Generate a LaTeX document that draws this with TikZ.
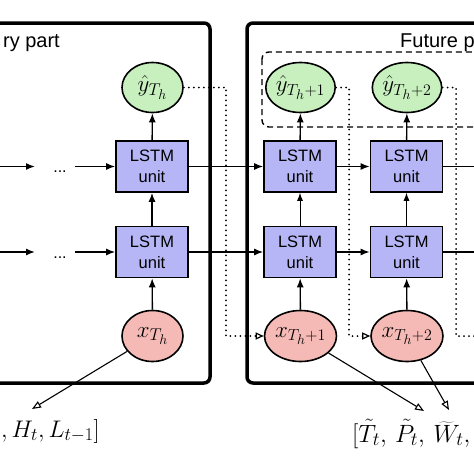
\RequirePackage{fix-cm}
\documentclass[tikz,border=0pt]{standalone}
\usepackage{fontspec}
\setsansfont{Liberation Sans}
\usetikzlibrary{shapes.geometric,arrows.meta}
\definecolor{lstmfill}{RGB}{182,182,246}
\definecolor{outfill}{RGB}{200,240,190}
\definecolor{infill}{RGB}{245,186,182}
\newcommand\msub[2]{\hbox{\fontsize{#1}{#1}\selectfont$#2$}}
\newcommand\Th{T_{\msub{14}{h}}}
\begin{document}
\begin{tikzpicture}[x=1pt,y=-1pt,
  lstm/.style={draw, fill=lstmfill, line width=1.6pt, minimum width=72pt, minimum height=51pt, inner sep=0pt, align=center, font=\sffamily\fontsize{16.5}{21}\selectfont},
  outnode/.style={ellipse, draw, fill=outfill, line width=1.6pt, minimum width=61pt, minimum height=50pt, inner sep=0pt, font=\fontsize{23}{24}\selectfont},
  innode/.style={ellipse, draw, fill=infill, line width=1.6pt, minimum width=61pt, minimum height=51pt, inner sep=0pt, font=\fontsize{23}{24}\selectfont},
  container/.style={line width=3.5pt, rounded corners=6pt},
  dashbox/.style={line width=1.4pt, dash pattern=on 6pt off 4pt, rounded corners=7pt},
  conn/.style={line width=1.4pt, -{Latex[length=9pt,width=7pt]}},
  thinconn/.style={line width=0.9pt, -{Latex[length=8pt,width=6pt]}},
  plainline/.style={line width=1.4pt},
  dotconn/.style={line width=2pt, line cap=round, dash pattern=on 0pt off 5pt, -{Triangle[open,length=8pt,width=7pt,line width=1.2pt]}},
  dotline/.style={line width=2pt, line cap=round, dash pattern=on 0pt off 5pt},
  openconn/.style={line width=1.1pt, -{Triangle[open,length=9pt,width=7pt]}},
  parttitle/.style={font=\sffamily\fontsize{20}{24}\selectfont, inner sep=0pt},
  dotstext/.style={font=\sffamily\fontsize{16}{20}\selectfont, inner sep=0pt},
  vectext/.style={font=\fontsize{24}{28}\selectfont, inner sep=0pt},
  vectextb/.style={font=\fontsize{25}{28}\selectfont, inner sep=0pt}
]
\useasboundingbox (0,0) rectangle (474,474);
\clip (0,0) rectangle (474,474);
\fill[white] (0,0) rectangle (474,474);

% containers
\draw[container] (-30,23) rectangle (210,383);
\draw[container] (247,23) rectangle (520,383);
\draw[dashbox] (262,52) rectangle (520,127);

\node[parttitle, anchor=base east] (histtitle) at (60,47) {ry part};
\node[parttitle, anchor=base west] (futtitle) at (400,47) {Future p};

% LSTM units
\node[lstm] (hu) at (152,166.5) {LSTM\\unit};
\node[lstm] (hl) at (152,252) {LSTM\\unit};
\node[lstm] (au) at (300,166.5) {LSTM\\unit};
\node[lstm] (al) at (300,252) {LSTM\\unit};
\node[lstm] (bu) at (406.5,166.5) {LSTM\\unit};
\node[lstm] (bl) at (406.5,252) {LSTM\\unit};

% outputs
\node[outnode] (yh) at (152.5,87.5) {$\hat y_{\msub{17}{\Th}}$};
\node[outnode] (ya) at (300.5,87.5) {$\hat y_{\msub{16}{\Th{+}1}}$};
\node[outnode] (yb) at (407,87.5) {$\hat y_{\msub{16}{\Th{+}2}}$};

% inputs
\node[innode] (xh) at (152.5,336) {$x_{\msub{17}{\Th}}$};
\node[innode] (xa) at (300.5,336) {$x_{\msub{16}{\Th{+}1}}$};
\node[innode] (xb) at (407,336) {$x_{\msub{16}{\Th{+}2}}$};

% left dots
\node[dotstext, anchor=base] (du) at (60,172) {...};
\node[dotstext, anchor=base] (dl) at (60,258) {...};
\coordinate (u0) at (0,166.5);
\coordinate (u1) at (35,166.5);
\coordinate (u2) at (75,166.5);
\coordinate (l0) at (0,252);
\coordinate (l1) at (35,252);
\coordinate (l2) at (75,252);
\coordinate (uend) at (480,166.5);
\coordinate (lend) at (480,252);

\draw[conn] (u0) -- (u1);
\draw[conn] (u2) -- (hu.west);
\draw[conn] (l0) -- (l1);
\draw[conn] (l2) -- (hl.west);

% horizontal recurrences
\draw[conn] (hu.east) -- (au.west);
\draw[conn] (au.east) -- (bu.west);
\draw[plainline] (bu.east) -- (uend);
\draw[conn] (hl.east) -- (al.west);
\draw[conn] (al.east) -- (bl.west);
\draw[plainline] (bl.east) -- (lend);

% vertical arrows
\draw[conn] (xh) -- (hl);
\draw[conn] (hl) -- (hu);
\draw[conn] (hu) -- (yh);
\draw[conn] (xa) -- (al);
\draw[thinconn] (al) -- (au);
\draw[conn] (au) -- (ya);
\draw[conn] (xb) -- (bl);
\draw[thinconn] (bl) -- (bu);
\draw[conn] (bu) -- (yb);

% dotted feedback
\coordinate (fa) at (226,336);
\coordinate (fb) at (349,336);
\coordinate (fc) at (456,336);
\coordinate (fend) at (480,336);
\draw[dotconn] (yh.east) -| (fa) -- (xa.west);
\draw[dotconn] (ya.east) -| (fb) -- (xb.west);
\draw[dotline] (yb.east) -| (fc) -- (fend);

% bottom vectors
\node[vectext, anchor=base west] (vh) at (1,437) {$, H_{\msub{18}{t}}, L_{\msub{18}{t{-}1}}]$};
\node[vectextb, anchor=base west] (vf) at (352,442) {$[\tilde T_{\msub{19}{t}},\, \tilde P_{\msub{19}{t}},\, \widetilde W_{\msub{19}{t}},$};
\coordinate (th) at (32,409);
\coordinate (ta) at (424,411);
\coordinate (tb) at (449,410);
\draw[openconn] (xh) -- (th);
\draw[openconn] (xa) -- (ta);
\draw[openconn] (xb) -- (tb);
\end{tikzpicture}
\end{document}
